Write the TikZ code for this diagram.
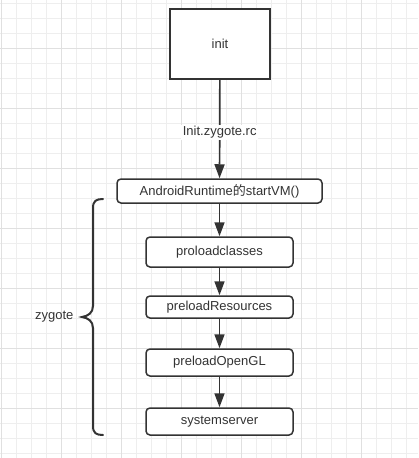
\documentclass[tikz,border=0pt]{standalone}
\usepackage{fontspec}
\setmainfont{Liberation Sans}
\newfontfamily\cjkfont{Noto Sans CJK SC}
\usetikzlibrary{arrows.meta}
\definecolor{ink}{HTML}{333333}
\definecolor{gridminor}{HTML}{EEEEEE}
\definecolor{gridmajor}{HTML}{E0E0E0}
\begin{document}
\begin{tikzpicture}[x=1pt,y=-1pt,
  every node/.style={font=\fontsize{13}{15}\selectfont, text=ink},
  initbox/.style={draw=ink, line width=2pt, rectangle, minimum width=100pt, minimum height=70pt, inner sep=0pt},
  procbox/.style={draw=ink, line width=1.5pt, rectangle, rounded corners=4pt, minimum width=147pt, inner sep=0pt, fill=white},
  arr/.style={draw=ink, line width=1.7pt, -{Triangle[length=14pt,width=10pt]}},
  lbl/.style={fill=white, inner sep=1.5pt},
  bracepath/.style={draw=ink, line width=2pt, line cap=round}
]
\useasboundingbox (0,0) rectangle (418,458);
\fill[white] (0,0) rectangle (418,458);
% grid
\foreach \k in {0,...,27} {
  \draw[gridminor, line width=1pt] ({1+15*\k},0) -- ({1+15*\k},458);
}
\foreach \k in {0,...,30} {
  \draw[gridminor, line width=1pt] (0,{3+15*\k}) -- (418,{3+15*\k});
}
\foreach \k in {0,...,6} {
  \draw[gridmajor, line width=1pt] ({1+60*\k},0) -- ({1+60*\k},458);
}
\foreach \k in {0,...,7} {
  \draw[gridmajor, line width=1pt] (0,{48+60*\k-60}) -- (418,{48+60*\k-60});
}
% nodes
\node[initbox, fill=white] (init) at (220,44) {init};
\node[procbox, minimum width=205pt, minimum height=24pt] (art) at (219.5,191) {AndroidRuntime{\cjkfont 的}startVM()};
\node[procbox, minimum height=30pt] (pc) at (219.5,252) {proloadclasses};
\node[procbox, minimum height=22pt] (pr) at (219.5,307) {preloadResources};
\node[procbox, minimum height=27pt] (pg) at (219.5,362.5) {preloadOpenGL};
\node[procbox, minimum height=27pt] (ss) at (219.5,421.5) {systemserver};
% connectors
\draw[arr] (init) -- node[lbl, pos=0.53] (rc) {Init.zygote.rc} (art);
\draw[arr] (pc) -- (pr);
\draw[arr] (pr) -- (pg);
\draw[arr] (pg) -- (ss);
\draw[arr] (art.south -| pc.north) -- (pc);
% brace
\draw[bracepath] (103,199) .. controls (96,199) and (93,201) .. (93,208) -- (93,306) .. controls (93,313) and (88,316) .. (82,317) .. controls (88,318) and (93,321) .. (93,328) -- (93,426) .. controls (93,433) and (96,435) .. (103,435);
\node[anchor=east] (zy) at (77,317) {zygote};
\end{tikzpicture}
\end{document}
